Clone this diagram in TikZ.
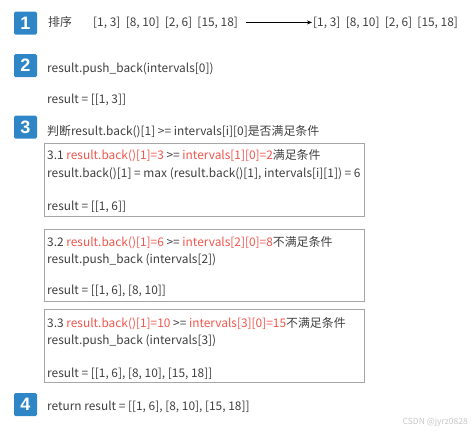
\documentclass[tikz,border=0pt]{standalone}
\usepackage{fontspec}
\setmainfont{Noto Sans CJK SC}
\newfontfamily\badgefont{Liberation Sans}
\usetikzlibrary{arrows.meta}
\definecolor{txt}{HTML}{404040}
\definecolor{badgeblue}{HTML}{2F86C6}
\definecolor{hl}{HTML}{F0574E}
\definecolor{boxgray}{HTML}{A6A6A6}
\tikzset{
  badge/.style={fill=badgeblue, rounded corners=1.5pt, minimum width=23pt, minimum height=23pt, inner sep=0pt, text=white, font=\badgefont\bfseries\fontsize{18}{18}\selectfont},
  line/.style={anchor=base west, inner sep=0pt, text=txt, font=\fontsize{11.9}{14}\selectfont},
  stepbox/.style={draw=boxgray, line width=0.9pt},
  arrowline/.style={draw=black, line width=0.7pt, -{Stealth[length=5pt,width=4pt]}}
}
\begin{document}
\begin{tikzpicture}[x=1pt,y=-1pt]
\useasboundingbox (0,0) rectangle (474,432);
% badges
\node[badge] (b1) at (25.5,23) {1};
\node[badge] (b2) at (25.5,65.5) {2};
\node[badge] (b3) at (25.5,127) {3};
\node[badge] (b4) at (25.5,404.5) {4};
% step 1
\node[line] (sort) at (48,26) {排序};
\node[line] (lst1) at (93,26) {[1, 3] \ [8, 10] \ [2, 6] \ [15, 18]};
\node[line] (lst2) at (313,26) {[1, 3] \ [8, 10] \ [2, 6] \ [15, 18]};
\draw[arrowline] ([xshift=8pt]lst1.east) -- ([xshift=-1pt]lst2.west);
% step 2
\node[line] (s2a) at (47,72) {result.push\_back(intervals[0])};
\node[line] (s2b) at (47,103) {result = [[1, 3]]};
% step 3
\node[line] (s3) at (47,135) {判断result.back()[1] >= intervals[i][0]是否满足条件};
\draw[stepbox] (44,143) rectangle (364,216);
\node[line] (s31a) at (47,159) {3.1 \textcolor{hl}{result.back()[1]=3} >= \textcolor{hl}{intervals[1][0]=2}满足条件};
\node[line] (s31b) at (47,177) {result.back()[1] = max (result.back()[1], intervals[i][1]) = 6};
\node[line] (s31c) at (47,210) {result = [[1, 6]]};
\draw[stepbox] (44,229) rectangle (364,301);
\node[line] (s32a) at (47,246) {3.2 \textcolor{hl}{result.back()[1]=6} >= \textcolor{hl}{intervals[2][0]=8}不满足条件};
\node[line] (s32b) at (47,263) {result.push\_back (intervals[2])};
\node[line] (s32c) at (47,294) {result = [[1, 6], [8, 10]]};
\draw[stepbox] (44,309) rectangle (364,382);
\node[line] (s33a) at (47,327) {3.3 \textcolor{hl}{result.back()[1]=10} >= \textcolor{hl}{intervals[3][0]=15}不满足条件};
\node[line] (s33b) at (47,344) {result.push\_back (intervals[3])};
\node[line] (s33c) at (47,377) {result = [[1, 6], [8, 10], [15, 18]]};
% step 4
\node[line] (s4) at (47,410) {return result = [[1, 6], [8, 10], [15, 18]]};
% watermark
\node[anchor=base east, inner sep=0pt, text=black!22, font=\fontsize{8.5}{9}\selectfont] (wm) at (468,424) {CSDN @jyrz0828};
\end{tikzpicture}
\end{document}
